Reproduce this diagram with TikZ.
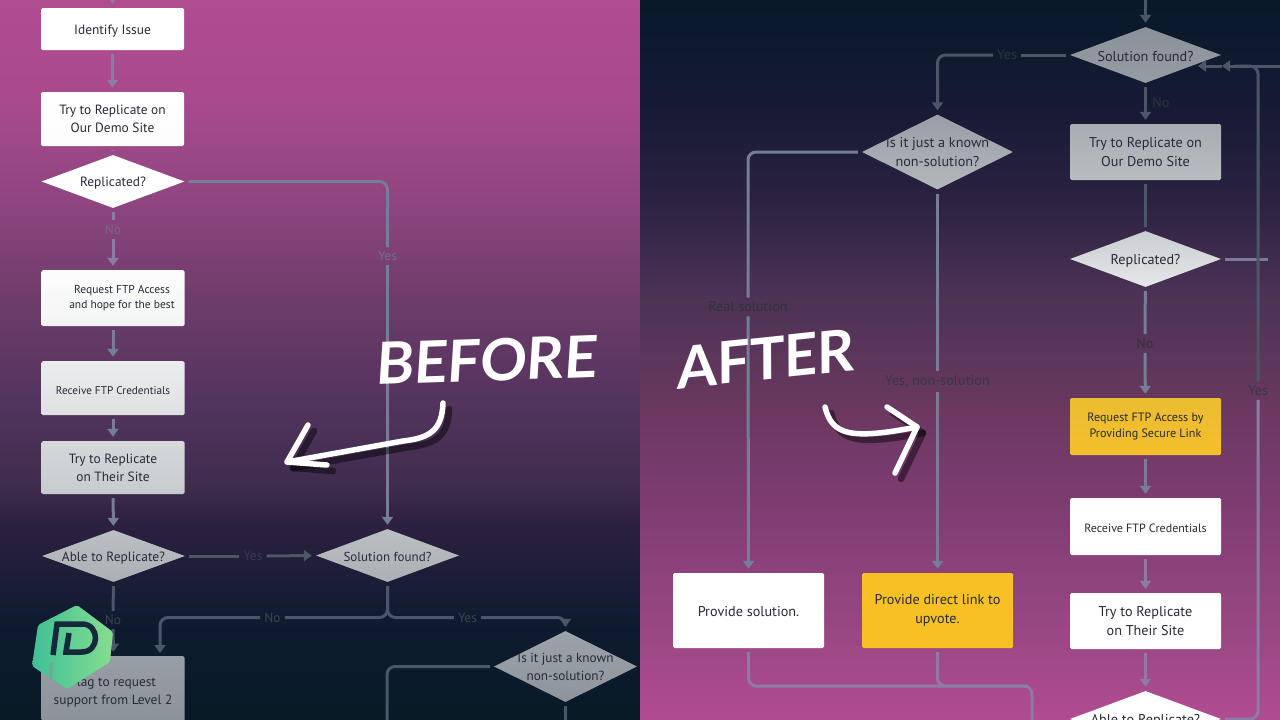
\documentclass[tikz,border=0pt]{standalone}
\usepackage{fontspec}
\setmainfont{PT Sans}
\newfontfamily\handfont[FakeSlant=0.1]{Lato}
\usetikzlibrary{arrows.meta,shapes.geometric}

\definecolor{fadegray}{HTML}{8A9199}
\definecolor{inktext}{HTML}{272B37}
\definecolor{linetop}{HTML}{8A7CA2}
\definecolor{linemid}{HTML}{777D96}
\definecolor{linelow}{HTML}{4B5668}
\definecolor{markyellow}{HTML}{F7C126}
\definecolor{logoleft}{HTML}{3FBF98}
\definecolor{logoright}{HTML}{86DD8F}
\definecolor{logoink}{HTML}{142A3A}

% Hintergrund
\definecolor{bga}{HTML}{B04C90}
\definecolor{bgb}{HTML}{A84A8C}
\definecolor{bgc}{HTML}{8F4580}
\definecolor{bgd}{HTML}{6E3C6A}
\definecolor{bge}{HTML}{53345E}
\definecolor{bgf}{HTML}{3E2C4C}
\definecolor{bgg}{HTML}{2E2040}
\definecolor{bgh}{HTML}{0F1B30}
\definecolor{bgi}{HTML}{081A26}
\definecolor{bgj}{HTML}{92457F}
\definecolor{bgk}{HTML}{7B3B6F}
\definecolor{bgl}{HTML}{68385F}
\definecolor{bgm}{HTML}{4A3254}
\definecolor{bgn}{HTML}{2B2240}
\definecolor{bgo}{HTML}{151A33}
\definecolor{bgp}{HTML}{08192A}
\pgfdeclareverticalshading{beforebg}{100bp}{
  color(0bp)=(bgi); color(25bp)=(bgi); color(31.9bp)=(bgh);
  color(38.9bp)=(bgg); color(41bp)=(bgf); color(47.2bp)=(bge);
  color(54.2bp)=(bgd); color(61.1bp)=(bgc); color(68bp)=(bgb);
  color(75bp)=(bga); color(100bp)=(bga)}
\pgfdeclareverticalshading{afterbg}{100bp}{
  color(0bp)=(bga); color(25bp)=(bga); color(33.3bp)=(bgj);
  color(41bp)=(bgk); color(47.2bp)=(bgl); color(54.9bp)=(bgm);
  color(61.1bp)=(bgn); color(68bp)=(bgo); color(75bp)=(bgp);
  color(100bp)=(bgp)}

\tikzset{
  fade/.style 2 args={top color=white!#1!fadegray,bottom color=white!#2!fadegray},
  boxnode/.style={rectangle,rounded corners=1.5pt,inner sep=0pt,align=center,
    text=inktext,minimum width=#1,execute at begin node={\rule{0pt}{13pt}}},
  decision/.style={diamond,aspect=2.6,inner xsep=-25pt,inner ysep=-8pt,align=center,
    text=inktext,minimum width=#1,execute at begin node={\rule{0pt}{13pt}}},
  leftsize/.style={font=\fontsize{13.4}{18}\selectfont},
  rightsize/.style={font=\fontsize{14.2}{18.5}\selectfont},
  conn/.style={line width=3pt,shorten <=4pt,shorten >=4pt},
  arr/.style={conn,-{Triangle[width=11pt,length=8pt]}},
  lbl/.style={inner sep=0pt},
  handtext/.style={font=\handfont\bfseries\fontsize{58}{58}\selectfont,text=white},
  handstroke/.style={line width=5.5pt,line cap=round,line join=round,white},
  handdrop/.style={line width=6.5pt,line cap=round,line join=round,black,opacity=.45},
}

\begin{document}
\begin{tikzpicture}[x=1pt,y=-1pt]
  \clip (0,0) rectangle (1280,720);
  \shade[shading=beforebg] (0,0) rectangle (640,720);
  \shade[shading=afterbg] (640,0) rectangle (1280,720);

  % Linke Seite
  \def\wl{143pt}
  \node[boxnode=\wl,leftsize,minimum height=42pt,fill=white] (identify) at (112.5,29) {Identify Issue};
  \node[boxnode=\wl,leftsize,minimum height=54pt,fade={100}{98}] (demoL) at (112.5,119) {Try to Replicate on\\Our Demo Site};
  \node[decision=\wl,leftsize,minimum height=53pt,fill=white] (replicatedL) at (113,181.5) {Replicated?};
  \node[boxnode=\wl,minimum height=56pt,fade={98}{90},font=\fontsize{11.5}{15}\selectfont] (requestL) at (113,298)
    {\hspace*{18pt}Request FTP Access\\\hspace*{18pt}and hope for the best};
  \node[boxnode=\wl,minimum height=54pt,fade={83}{72},font=\fontsize{11.2}{15}\selectfont] (receiveL) at (113,388) {Receive FTP Credentials};
  \node[boxnode=\wl,leftsize,minimum height=53pt,fade={65}{52}] (theirL) at (113,467.5) {Try to Replicate\\on Their Site};
  \node[decision=\wl,leftsize,minimum height=52pt,fade={42}{28}] (ableL) at (113.5,556) {Able to Replicate?};
  \node[decision=\wl,minimum height=53pt,fade={42}{28},font=\fontsize{13}{18}\selectfont] (solutionL) at (387.5,555.5) {Solution found?};
  \node[boxnode=\wl,leftsize,minimum height=72pt,fade={12}{0}] (flagL) at (113,692) {Flag to request\\support from Level 2};
  \node[decision=\wl,minimum height=71pt,fade={16}{3},font=\fontsize{13.2}{18}\selectfont] (knownL) at (565.5,666.5) {Is it just a known\\non-solution?};

  \node[lbl,leftsize,text=linetop!85!black] (noA) at (113,229.5) {No};
  \node[lbl,leftsize,text=linemid!90!black] (yesA) at (387.5,256) {Yes};
  \node[lbl,leftsize,text=linelow!45!bgg] (yesB) at (253,556) {Yes};
  \node[lbl,leftsize,text=linelow!80!black] (noB) at (113,620) {No};
  \node[lbl,leftsize,text=linelow!80!black] (noC) at (272.5,617.5) {No};
  \node[lbl,leftsize,text=linelow!80!black] (yesC) at (467.5,617.5) {Yes};

  \coordinate (startL) at (112.5,-12);
  \coordinate (flagIn) at (160,657);
  \coordinate (exitL) at (387,732);
  \coordinate (exitK) at (565.5,732);

  \draw[arr,linetop] (startL) -- (identify);
  \draw[arr,linetop] (identify) -- (demoL);
  \draw[conn,linetop] (demoL) -- (replicatedL);
  \draw[conn,linetop] (replicatedL) -- (noA);
  \draw[arr,linetop] (noA) -- (requestL);
  \draw[arr,linemid] (requestL) -- (receiveL);
  \draw[arr,linemid] (receiveL) -- (theirL);
  \draw[arr,linemid] (theirL) -- (ableL);
  \draw[conn,linemid,rounded corners=8pt] (replicatedL.east) -| (yesA.north);
  \draw[arr,linemid] (yesA.south) -- (solutionL.north);
  \draw[conn,linelow] (ableL.east) -- (yesB.west);
  \draw[arr,linelow] (yesB.east) -- (solutionL.west);
  \draw[conn,linelow] (ableL.south) -- (noB.north);
  \draw[arr,linelow] (noB.south) -- (ableL.south |- flagL.north);
  \draw[conn,linelow,rounded corners=8pt] (solutionL.south) |- (noC.east);
  \draw[conn,linelow,rounded corners=8pt] (solutionL.south) |- (yesC.west);
  \draw[arr,linelow,rounded corners=8pt] (noC.west) -| (flagIn);
  \draw[arr,linelow,rounded corners=8pt] (yesC.east) -| (knownL.north);
  \draw[conn,linelow,rounded corners=8pt] (knownL.west) -| (exitL);
  \draw[conn,linelow] (knownL.south) -- (exitK);

  % Rechte Seite
  \def\wr{151pt}
  \node[decision=\wr,rightsize,minimum height=56pt,fade={0}{10}] (solutionR) at (1145.5,55) {Solution found?};
  \node[boxnode=\wr,rightsize,minimum height=56pt,fade={25}{40}] (demoR) at (1145.5,152) {Try to Replicate on\\Our Demo Site};
  \node[decision=\wr,rightsize,minimum height=56pt,fade={55}{78}] (replicatedR) at (1145.5,259) {Replicated?};
  \node[boxnode=\wr,minimum height=57pt,top color=markyellow!90!fadegray,bottom color=markyellow!96!fadegray,
    font=\fontsize{12.1}{16}\selectfont] (requestR) at (1145.5,426.5) {Request FTP Access by\\Providing Secure Link};
  \node[boxnode=\wr,minimum height=57pt,fill=white,font=\fontsize{12}{16}\selectfont] (receiveR) at (1145.5,526.5) {Receive FTP Credentials};
  \node[boxnode=\wr,rightsize,minimum height=56pt,fill=white] (theirR) at (1145.5,621) {Try to Replicate\\on Their Site};
  \node[decision=\wr,rightsize,minimum height=56pt,fill=white] (ableR) at (1145.5,719) {Able to Replicate?};
  \node[decision=\wr,rightsize,minimum height=75pt,fade={12}{35}] (knownR) at (937.5,152) {Is it just a known\\non-solution?};
  \node[boxnode=\wr,rightsize,minimum height=75pt,fill=white] (provide) at (748.5,610.5) {Provide solution.};
  \node[boxnode=\wr,rightsize,minimum height=75pt,fill=markyellow] (upvote) at (937.5,610.5) {Provide direct link to\\upvote.};

  \node[lbl,rightsize,text=linelow!60!black] (yesD) at (1007,55) {Yes};
  \node[lbl,rightsize,text=linelow!60!black] (noD) at (1161,103) {No};
  \node[lbl,rightsize,text=linemid!40!black] (noE) at (1145,343.5) {No};
  \node[lbl,rightsize,text=linemid!40!black] (realsol) at (748,307) {Real solution};
  \node[lbl,rightsize,text=linemid!45!black] (yesE) at (937.5,381.5) {Yes, non-solution};
  \node[lbl,rightsize,text=linemid!45!black] (yesF) at (1258,390.5) {Yes};

  \coordinate (startR) at (1145.5,-12);
  \coordinate (edgeR) at (1292,66);
  \coordinate (tipA) at (1222,66);
  \coordinate (tipB) at (1198,66);
  \coordinate (joinT) at (1235,66);
  \coordinate (stubR) at (1272,259);
  \coordinate (bendR) at (1032,686);
  \coordinate (exitR) at (1032,732);

  \draw[arr,linelow] (startR) -- (solutionR);
  \draw[arr,linelow] (solutionR) -- (demoR);
  \draw[conn,linelow] (demoR) -- (replicatedR);
  \draw[conn,linemid] (replicatedR) -- (noE);
  \draw[arr,linemid] (noE) -- (requestR);
  \draw[arr,linemid] (requestR) -- (receiveR);
  \draw[arr,linetop] (receiveR) -- (theirR);
  \draw[arr,linetop] (theirR) -- (ableR);
  \draw[conn,linelow] (solutionR.west) -- (yesD.east);
  \draw[arr,linelow,rounded corners=8pt] (yesD.west) -| (knownR.north);
  \draw[conn,linemid] (replicatedR.east) -- (stubR);
  \draw[conn,linetop,rounded corners=8pt] (ableR.east) -| (yesF.south);
  \draw[conn,linelow,shorten >=0pt,rounded corners=8pt] (yesF.north) |- (joinT);
  \draw[arr,linelow,shorten <=0pt,shorten >=0pt] (edgeR) -- (tipA);
  \draw[arr,linelow,shorten <=0pt,shorten >=0pt] (tipA) -- (tipB);
  \draw[conn,linemid,rounded corners=8pt] (knownR.west) -| (realsol.north);
  \draw[arr,linemid] (realsol.south) -- (provide.north);
  \draw[conn,linemid] (knownR.south) -- (yesE.north);
  \draw[arr,linemid] (yesE.south) -- (upvote.north);
  \draw[conn,linetop,rounded corners=8pt] (provide.south) |- (bendR) -- (exitR);
  \draw[conn,linetop,rounded corners=8pt] (upvote.south) |- (bendR);

  % Logo
  \shade[left color=logoleft,right color=logoright,rounded corners=2pt]
    (77,605) -- (113,632) -- (110,662) -- (67,689) -- (32,666) -- (38,625) -- cycle;
  \fill[fadegray,opacity=.6] (50,663) -- (53,663) -- (52,680) -- (49,678) -- cycle;
  \draw[line width=5.5pt,color=logoink,line join=miter]
    (53,655) -- (57,624) -- (82,624) .. controls (100,624) and (100,652) .. (82,652) -- (66,652) -- (69,633);

  % Handschrift
  \node[handtext,rotate=2] (before) at (485,360) {BEFORE};
  \node[handtext,rotate=6] (after) at (764,359) {AFTER};
  \foreach \dx/\st in {6/handdrop,0/handstroke} {
    \begin{scope}[shift={(\dx,\dx)}]
      \draw[\st] (443,403) .. controls (442,430) and (430,438) .. (403,441) -- (287,462);
      \draw[\st] (308,425) -- (287,462) -- (327,465);
      \draw[\st] (825,407) .. controls (832,435) and (850,440) .. (917,427);
      \draw[\st] (887,407) -- (917,427) -- (895,473);
    \end{scope}
  }
\end{tikzpicture}
\end{document}
